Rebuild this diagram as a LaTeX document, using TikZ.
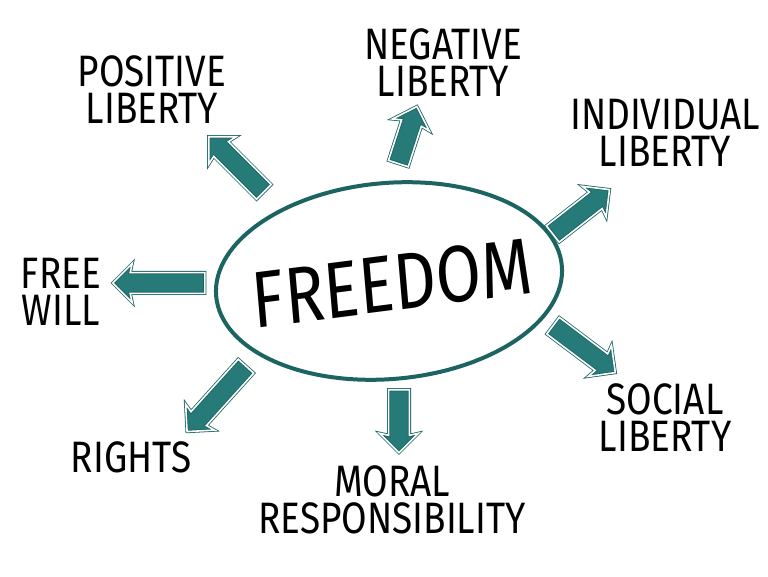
\documentclass[tikz,border=0pt]{standalone}
\usepackage{fontspec}
\setmainfont{Fira Sans}
\usetikzlibrary{shapes.geometric,shapes.arrows,positioning}
\definecolor{tealfill}{HTML}{267A78}
\definecolor{tealdark}{HTML}{1B6462}
\tikzset{
    idea/.style={
        align=center,
        font=\fontsize{44}{37}\selectfont,
        xscale=0.84,
        inner sep=0pt
    },
    blockarrow/.style={
        single arrow,
        draw=tealdark,
        double=white,
        double distance=1.6pt,
        line width=0.8pt,
        fill=tealfill,
        minimum height=#1,
        inner xsep=0pt,
        inner ysep=10pt,
        single arrow head extend=9pt,
        single arrow head indent=2pt
    },
    blockarrow/.default=72pt
}
\begin{document}
\begin{tikzpicture}[x=1pt,y=1pt]
    \useasboundingbox[fill=white] (0,0) rectangle (768,576);

    % Central idea
    \node[ellipse, draw=tealdark, line width=4pt, minimum width=347pt, minimum height=196pt, rotate=5] (freedom) at (389,295) {};
    \node[font=\fontsize{80}{80}\selectfont, xscale=0.82, rotate=6] (word) at (392,293) {FREEDOM};

    % Branches
    \node[idea] (pos) at (152,486) {POSITIVE\\LIBERTY};
    \node[idea] (neg) at (443,513) {NEGATIVE\\LIBERTY};
    \node[idea] (ind) at (665,443) {INDIVIDUAL\\LIBERTY};
    \node[idea] (free) at (61,284) {FREE\\WILL};
    \node[idea] (rights) at (131,119) {RIGHTS};
    \node[idea] (moral) at (392,76) {MORAL\\RESPONSIBILITY};
    \node[idea] (social) at (665,158) {SOCIAL\\LIBERTY};

    % Arrows
    \node[blockarrow=78pt, rotate=135] (apos) at (240,408) {};
    \node[blockarrow=60pt, rotate=72] (aneg) at (406,436) {};
    \node[blockarrow=72pt, rotate=38] (aind) at (577,361) {};
    \node[blockarrow=92pt, rotate=180] (afree) at (164,293) {};
    \node[blockarrow=88pt, rotate=228] (arights) at (220,181) {};
    \node[blockarrow=63pt, rotate=270] (amoral) at (399,160) {};
    \node[blockarrow=78pt, rotate=-37] (asocial) at (580,230) {};
\end{tikzpicture}
\end{document}
